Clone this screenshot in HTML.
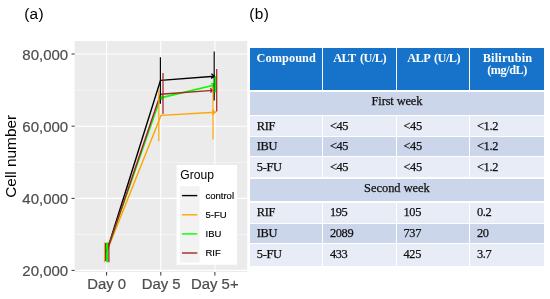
<!DOCTYPE html>
<html><head><meta charset="utf-8">
<style>
html,body{margin:0;padding:0;background:#fff;}
body{width:550px;height:299px;position:relative;overflow:hidden;font-family:"Liberation Sans",sans-serif;}
.abs{position:absolute;}
.lab{position:absolute;font-size:15.4px;color:#000;line-height:1;white-space:nowrap;}
svg{position:absolute;left:0;top:0;}
svg text{font-family:"Liberation Sans",sans-serif;}
.tbl{position:absolute;font-family:"Liberation Serif",serif;color:#111;}
.cell{position:absolute;box-sizing:border-box;font-size:12.4px;line-height:1;white-space:nowrap;-webkit-text-stroke:0.25px #111;letter-spacing:-0.35px;}
.sp{letter-spacing:0;}
.hd{background:#1673c9;color:#fff;font-weight:bold;text-align:center;font-size:12.3px;-webkit-text-stroke:0;letter-spacing:0;}
.d{background:#ccd6eb;}
.l{background:#e8ecf6;}
.cell span{position:absolute;left:6.6px;}
.hd span{left:0;right:0;}
</style></head><body>
<div class="lab" style="left:24.2px;top:6.4px;letter-spacing:0.3px;">(a)</div>
<div class="lab" style="left:249.2px;top:6.4px;letter-spacing:0.5px;">(b)</div>

<svg width="550" height="299" viewBox="0 0 550 299">
  <!-- panel -->
  <rect x="74.6" y="41" width="172.6" height="231.0" fill="#ebebeb"/>
  <!-- minor grid -->
  <g stroke="#f6f6f6" stroke-width="0.8">
    <line x1="74.6" x2="247.2" y1="90.1" y2="90.1"/>
    <line x1="74.6" x2="247.2" y1="162.3" y2="162.3"/>
    <line x1="74.6" x2="247.2" y1="234.5" y2="234.5"/>
  </g>
  <!-- major grid -->
  <g stroke="#ffffff" stroke-width="1.1">
    <line x1="74.6" x2="247.2" y1="54" y2="54"/>
    <line x1="74.6" x2="247.2" y1="126.2" y2="126.2"/>
    <line x1="74.6" x2="247.2" y1="198.4" y2="198.4"/>
    <line x1="74.6" x2="247.2" y1="270.4" y2="270.4"/>
    <line x1="106.6" x2="106.6" y1="41" y2="272"/>
    <line x1="160.8" x2="160.8" y1="41" y2="272"/>
    <line x1="214.9" x2="214.9" y1="41" y2="272"/>
  </g>
  <!-- ticks -->
  <g stroke="#333" stroke-width="1">
    <line x1="71.6" x2="74.6" y1="54" y2="54"/>
    <line x1="71.6" x2="74.6" y1="126.2" y2="126.2"/>
    <line x1="71.6" x2="74.6" y1="198.4" y2="198.4"/>
    <line x1="71.6" x2="74.6" y1="270.4" y2="270.4"/>
    <line x1="106.6" x2="106.6" y1="272" y2="275.6"/>
    <line x1="160.8" x2="160.8" y1="272" y2="275.6"/>
    <line x1="214.9" x2="214.9" y1="272" y2="275.6"/>
  </g>
  <!-- axis text -->
  <g font-size="15" fill="#4d4d4d" stroke="#4d4d4d" stroke-width="0.2" text-anchor="end">
    <text x="68.2" y="59.9">80,000</text>
    <text x="68.2" y="132.1">60,000</text>
    <text x="68.2" y="204.3">40,000</text>
    <text x="68.2" y="276.4">20,000</text>
  </g>
  <g font-size="14.9" fill="#4d4d4d" stroke="#4d4d4d" stroke-width="0.2" text-anchor="middle">
    <text x="106.6" y="289.2">Day 0</text>
    <text x="161.1" y="289.2">Day 5</text>
    <text x="214.8" y="289.2">Day 5+</text>
  </g>
  <text transform="translate(16.2,156.3) rotate(-90)" font-size="15.4" fill="#000" text-anchor="middle">Cell number</text>

  <!-- lines -->
  <g stroke-width="1.45" fill="none" stroke-linejoin="round">
    <polyline stroke="#000" points="106.5,252.3 160.5,80.4 214.5,76.2"/>
    <polyline stroke="#000" points="211.4,73.7 214.5,76.2 211.1,78.4"/>
    <polyline stroke="#ffa500" points="106.5,252.3 161.0,115.4 215.3,112.2"/>
    <polyline stroke="#ffa500" points="212.1,109.9 215.3,112.2 212.3,114.7"/>
    <polyline stroke="#00ff00" stroke-width="1.3" points="106.5,252.3 160.7,97.9"/>
    <polyline stroke="#00ff00" stroke-width="1.7" points="160.4,98.0 160.7,97.9 214.6,85.0"/>
    <polyline stroke="#00ff00" stroke-width="1.6" points="211.2,83.3 214.6,85.0 212.2,87.9"/>
    <polyline stroke="#a52626" points="106.5,252.3 160.5,94.2 212.7,90.4"/>
    <polyline stroke="#a52626" points="210.2,88.4 212.7,90.4 210.4,92.6"/>
  </g>
  <!-- error bars: order 5-FU, control, IBU, RIF -->
  <g stroke-width="1.15" fill="none">
    <g stroke="#ffa500">
      <line x1="104.5" x2="104.5" y1="242.5" y2="262.3"/>
      <line x1="158.8" x2="158.8" y1="90" y2="141.3"/>
      <line x1="213.0" x2="213.0" y1="85.5" y2="139.6"/>
    </g>
    <g stroke="#000">
      <line x1="105.9" x2="105.9" y1="243" y2="261"/>
      <line x1="160.4" x2="160.4" y1="57.2" y2="103.8"/>
      <line x1="214.2" x2="214.2" y1="51.6" y2="100.6"/>
    </g>
    <g stroke="#00ff00" stroke-width="2">
      <line x1="107.2" x2="107.2" y1="242.5" y2="262.3"/>
      <line x1="161.6" x2="161.6" y1="95.5" y2="100"/>
      <line x1="215.6" x2="215.6" y1="76" y2="92.3"/>
    </g>
    <g stroke="#a52626" stroke-width="1.25">
      <line x1="108.9" x2="108.9" y1="242.5" y2="262.3"/>
      <line x1="163.0" x2="163.0" y1="73" y2="114"/>
      <line x1="216.7" x2="216.7" y1="69" y2="111.5"/>
    </g>
  </g>

  <!-- legend -->
  <rect x="176.6" y="165" width="60.5" height="99.8" fill="#fff"/>
  <text x="180.3" y="179.2" font-size="12.1" fill="#000">Group</text>
  <rect x="179.8" y="186.2" width="19.7" height="76.4" fill="#f2f2f2"/>
  <g stroke-width="1.4">
    <line x1="181.9" x2="197.3" y1="195.6" y2="195.6" stroke="#000"/>
    <line x1="181.9" x2="197.3" y1="214.8" y2="214.8" stroke="#ffa500"/>
    <line x1="181.9" x2="197.3" y1="233.9" y2="233.9" stroke="#00ff00"/>
    <line x1="181.9" x2="197.3" y1="253.0" y2="253.0" stroke="#a52626"/>
  </g>
  <g font-size="9.5" fill="#000" stroke="#000" stroke-width="0.15">
    <text x="205.5" y="199.0">control</text>
    <text x="205.5" y="218.1">5-FU</text>
    <text x="205.5" y="237.2">IBU</text>
    <text x="205.5" y="256.3">RIF</text>
  </g>
</svg>

<!-- table -->
<div class="tbl" style="left:0;top:0;">
  <div class="cell hd" style="left:250.2px;top:48px;width:72.1px;height:41.6px;"><span style="top:3.5px;letter-spacing:0.07px">Compound</span></div>
  <div class="cell hd" style="left:323.3px;top:48px;width:72.6px;height:41.6px;"><span style="top:3.5px;letter-spacing:-0.55px;word-spacing:2px">ALT (U/L)</span></div>
  <div class="cell hd" style="left:396.9px;top:48px;width:72.5px;height:41.6px;"><span style="top:3.5px;letter-spacing:-0.55px;word-spacing:2px;padding-left:1px">ALP (U/L)</span></div>
  <div class="cell hd" style="left:470.4px;top:48px;width:73.3px;height:41.6px;"><span style="top:3.5px;letter-spacing:0.2px;padding-left:1px">Bilirubin</span><span style="top:15.7px;letter-spacing:-0.5px">(mg/dL)</span></div>
  <div class="cell d" style="left:250.2px;top:92.3px;width:293.5px;height:22.7px;text-align:center;"><span class="sp" style="left:0;right:0;top:3.2px;letter-spacing:-0.12px">First week</span></div>
  <div class="cell l" style="left:250.2px;top:116.0px;width:72.1px;height:20.0px;"><span style="top:3.5px">RIF</span></div>
  <div class="cell l" style="left:323.3px;top:116.0px;width:72.6px;height:20.0px;"><span style="top:3.5px">&lt;45</span></div>
  <div class="cell l" style="left:396.9px;top:116.0px;width:72.5px;height:20.0px;"><span style="top:3.5px">&lt;45</span></div>
  <div class="cell l" style="left:470.4px;top:116.0px;width:73.3px;height:20.0px;"><span style="top:3.5px">&lt;1.2</span></div>
  <div class="cell d" style="left:250.2px;top:136.7px;width:72.1px;height:19.3px;"><span style="top:3.1px">IBU</span></div>
  <div class="cell d" style="left:323.3px;top:136.7px;width:72.6px;height:19.3px;"><span style="top:3.1px">&lt;45</span></div>
  <div class="cell d" style="left:396.9px;top:136.7px;width:72.5px;height:19.3px;"><span style="top:3.1px">&lt;45</span></div>
  <div class="cell d" style="left:470.4px;top:136.7px;width:73.3px;height:19.3px;"><span style="top:3.1px">&lt;1.2</span></div>
  <div class="cell l" style="left:250.2px;top:156.5px;width:72.1px;height:20.9px;"><span style="top:4.6px">5-FU</span></div>
  <div class="cell l" style="left:323.3px;top:156.5px;width:72.6px;height:20.9px;"><span style="top:4.6px">&lt;45</span></div>
  <div class="cell l" style="left:396.9px;top:156.5px;width:72.5px;height:20.9px;"><span style="top:4.6px">&lt;45</span></div>
  <div class="cell l" style="left:470.4px;top:156.5px;width:73.3px;height:20.9px;"><span style="top:4.6px">&lt;1.2</span></div>
  <div class="cell d" style="left:250.2px;top:178.6px;width:293.5px;height:22.8px;text-align:center;"><span class="sp" style="left:0;right:0;top:3.4px">Second week</span></div>
  <div class="cell l" style="left:250.2px;top:202.6px;width:72.1px;height:20.7px;"><span style="top:3.8px">RIF</span></div>
  <div class="cell l" style="left:323.3px;top:202.6px;width:72.6px;height:20.7px;"><span style="top:3.8px">195</span></div>
  <div class="cell l" style="left:396.9px;top:202.6px;width:72.5px;height:20.7px;"><span style="top:3.8px">105</span></div>
  <div class="cell l" style="left:470.4px;top:202.6px;width:73.3px;height:20.7px;"><span style="top:3.8px">0.2</span></div>
  <div class="cell d" style="left:250.2px;top:224.1px;width:72.1px;height:19.0px;"><span style="top:2.7px">IBU</span></div>
  <div class="cell d" style="left:323.3px;top:224.1px;width:72.6px;height:19.0px;"><span style="top:2.7px">2089</span></div>
  <div class="cell d" style="left:396.9px;top:224.1px;width:72.5px;height:19.0px;"><span style="top:2.7px">737</span></div>
  <div class="cell d" style="left:470.4px;top:224.1px;width:73.3px;height:19.0px;"><span style="top:2.7px">20</span></div>
  <div class="cell l" style="left:250.2px;top:243.6px;width:72.1px;height:22.0px;"><span style="top:4.6px">5-FU</span></div>
  <div class="cell l" style="left:323.3px;top:243.6px;width:72.6px;height:22.0px;"><span style="top:4.6px">433</span></div>
  <div class="cell l" style="left:396.9px;top:243.6px;width:72.5px;height:22.0px;"><span style="top:4.6px">425</span></div>
  <div class="cell l" style="left:470.4px;top:243.6px;width:73.3px;height:22.0px;"><span style="top:4.6px">3.7</span></div>
</div>
</body></html>
